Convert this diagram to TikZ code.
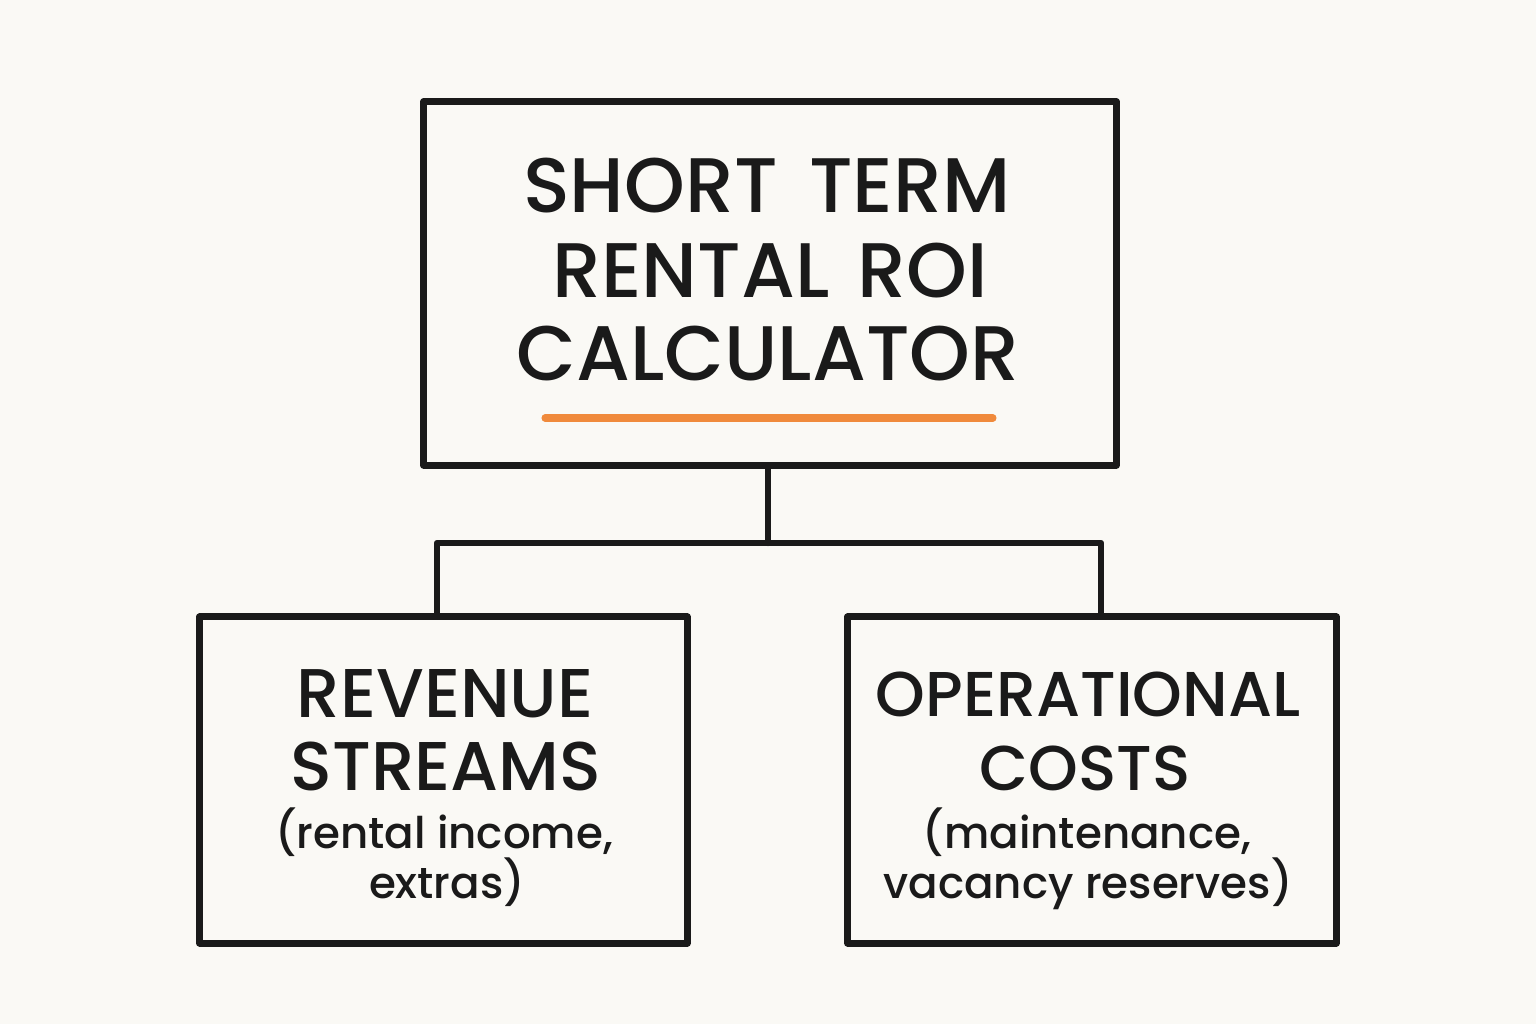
\documentclass[tikz,border=0pt]{standalone}
\usepackage{fontspec}
\setmainfont{Poppins}
\newfontfamily\popmed{Poppins Medium}
\definecolor{paper}{HTML}{FAF9F5}
\definecolor{ink}{HTML}{1A1A1A}
\definecolor{accent}{HTML}{F08A3C}
\begin{document}
\begin{tikzpicture}[x=0.01cm,y=-0.01cm,
  boxstyle/.style={draw=ink,line width=2pt,line join=round,fill=paper},
  wire/.style={draw=ink,line width=1.8pt,line join=round,line cap=round},
  titletext/.style={anchor=base,inner sep=0pt,text=ink,font=\popmed\fontsize{22}{26}\selectfont},
  headtext/.style={anchor=base,inner sep=0pt,text=ink,font=\popmed\fontsize{19.6}{23}\selectfont},
  headtextr/.style={anchor=base,inner sep=0pt,text=ink,font=\popmed\fontsize{18}{22}\selectfont},
  subtext/.style={anchor=base,inner sep=0pt,text=ink,font=\popmed\fontsize{12.4}{15}\selectfont}]
\fill[paper] (0,0) rectangle (1536,1024);
\useasboundingbox (0,0) rectangle (1536,1024);
% boxes
\node (top) [boxstyle,inner sep=0pt,minimum width=6.92cm,minimum height=3.63cm] at (770,283.5) {};
\node (left) [boxstyle,inner sep=0pt,minimum width=4.87cm,minimum height=3.26cm] at (443.5,780) {};
\node (right) [boxstyle,inner sep=0pt,minimum width=4.88cm,minimum height=3.26cm] at (1092,780) {};
% connectors
\coordinate (j) at (768,543);
\coordinate (jl) at (437,543);
\coordinate (jr) at (1101,543);
\draw[wire] (top.south -| j) -- (j);
\draw[wire] (jl |- left.north) -- (jl) -- (jr) -- (jr |- right.north);
% title
\node (t1) [titletext] at (767,212) {SHORT\hspace{0.15em} TERM};
\node (t2) [titletext] at (770,297) {RENTAL\hspace{0.1em} ROI};
\node (t3) [titletext] at (768,380) {CALCULATOR};
\draw[accent,line width=2pt,line cap=round] (545,418) -- (993,418);
% left
\node (l1) [headtext] at (445,717) {REVENUE};
\node (l2) [headtext] at (446,790) {STREAMS};
\node (l3) [subtext] at (444,848) {(rental income,};
\node (l4) [subtext] at (447,898) {extras)};
% right
\node (r1) [headtextr] at (1088,716) {OPERATIONAL};
\node (r2) [headtextr] at (1085,790) {COSTS};
\node (r3) [subtext] at (1087,848) {(maintenance,};
\node (r4) [subtext] at (1088,898) {vacancy reserves)};
\end{tikzpicture}
\end{document}
